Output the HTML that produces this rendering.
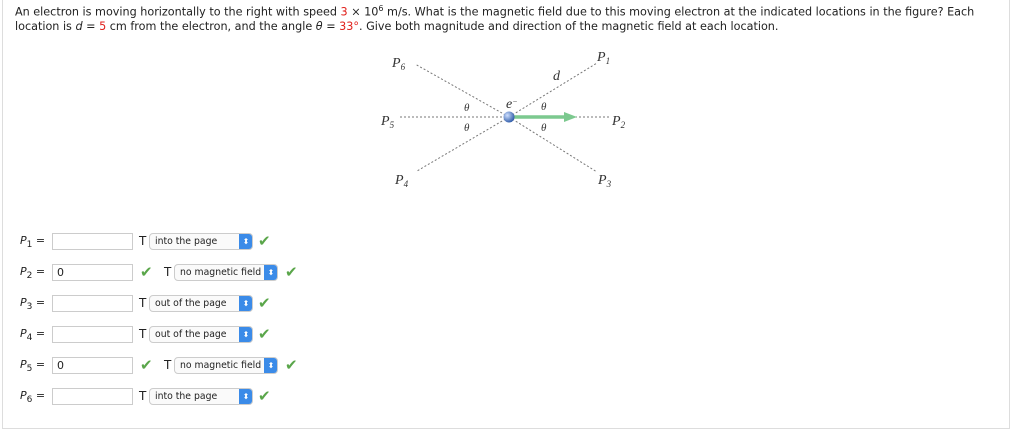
<!DOCTYPE html>
<html><head><meta charset="utf-8"><style>
body{margin:0;width:1024px;height:442px;background:#fff;position:relative;overflow:hidden;font-family:"DejaVu Sans","Liberation Sans",sans-serif;color:#222}
.frame{position:absolute;left:2px;top:-2px;width:1006px;height:430px;border:1px solid #ddd;border-top:none}
.q{position:absolute;left:15px;font-size:11.2px;white-space:nowrap}
.r{color:#e0201b}
.lab{position:absolute;left:20px;font-size:11px;font-style:italic}
.lab sub{font-style:normal;font-size:9px}
.lab span{font-style:normal}
.in{position:absolute;width:81px;height:17px;border:1px solid #ccc;font-size:11px;line-height:16px;padding-left:4px;box-sizing:border-box}
.T{position:absolute;font-size:12px}
.sel{position:absolute;width:104px;height:17px;border:1px solid #ccc;border-radius:4px;font-size:9.3px;line-height:15px;padding-left:5px;box-sizing:border-box;background:#fafafa;white-space:nowrap;overflow:hidden}
.btn{position:absolute;right:-1px;top:-1px;width:14px;height:17px;background:#3b8be8;border-radius:0 4px 4px 0;color:#fff;font-size:8px;text-align:center;line-height:17px}
.ck{position:absolute;color:#5aa64a;font-size:15px;font-weight:bold}
</style></head><body>
<div class="frame"></div>
<div class="q" style="top:4px">An electron is moving horizontally to the right with speed <span class="r">3</span> × 10<sup style="font-size:8px">6</sup> m/s. What is the magnetic field due to this moving electron at the indicated locations in the figure? Each</div>
<div class="q" style="top:20px">location is <i>d</i> = <span class="r">5</span> cm from the electron, and the angle <i>θ</i> = <span class="r">33°</span>. Give both magnitude and direction of the magnetic field at each location.</div>
<svg style="position:absolute;left:0;top:0" width="1024" height="442">
<g stroke="#777" stroke-width="1" stroke-dasharray="2,2" fill="none">
<line x1="509" y1="117" x2="597" y2="63"/><line x1="509" y1="117" x2="415" y2="64"/>
<line x1="509" y1="117" x2="597" y2="172"/><line x1="509" y1="117" x2="417" y2="171"/>
<line x1="400" y1="117" x2="505" y2="117"/><line x1="575" y1="117" x2="610" y2="117"/>
</g>
<line x1="514" y1="117" x2="566" y2="117" stroke="#7cc98f" stroke-width="3.5"/>
<polygon points="564,112 577,117 564,122" fill="#7cc98f"/>
<defs><radialGradient id="g" cx="0.35" cy="0.35" r="0.7"><stop offset="0" stop-color="#cfe0ff"/><stop offset="1" stop-color="#2d5aa8"/></radialGradient></defs>
<circle cx="509" cy="117" r="5.5" fill="url(#g)"/>
<g font-family="Liberation Serif,serif" font-style="italic" font-size="14" fill="#333">
<text x="597" y="61">P<tspan font-size="9" dy="3">1</tspan></text>
<text x="392" y="67">P<tspan font-size="9" dy="3">6</tspan></text>
<text x="381" y="125">P<tspan font-size="9" dy="3">5</tspan></text>
<text x="612" y="125">P<tspan font-size="9" dy="3">2</tspan></text>
<text x="395" y="184">P<tspan font-size="9" dy="3">4</tspan></text>
<text x="598" y="184">P<tspan font-size="9" dy="3">3</tspan></text>
<text x="553" y="80">d</text>
<text x="506" y="108">e<tspan font-size="8" dy="-4">−</tspan></text>
<g font-size="11"><text x="464" y="111">θ</text><text x="464" y="131">θ</text><text x="541" y="110">θ</text><text x="541" y="131">θ</text></g>
</g>
</svg>

<div class="lab" style="top:234px">P<sub>1</sub> <span>=</span></div>
<div class="in" style="left:52px;top:233px"></div>
<div class="T" style="left:139px;top:234px">T</div>
<div class="sel" style="left:149px;top:233px">into the page<div class="btn">⬍</div></div>
<div class="ck" style="left:258px;top:232px">✔</div>

<div class="lab" style="top:265px">P<sub>2</sub> <span>=</span></div>
<div class="in" style="left:52px;top:264px">0</div>
<div class="ck" style="left:140px;top:263px">✔</div>
<div class="T" style="left:164px;top:265px">T</div>
<div class="sel" style="left:174px;top:264px">no magnetic field<div class="btn">⬍</div></div>
<div class="ck" style="left:285px;top:263px">✔</div>

<div class="lab" style="top:296px">P<sub>3</sub> <span>=</span></div>
<div class="in" style="left:52px;top:295px"></div>
<div class="T" style="left:139px;top:296px">T</div>
<div class="sel" style="left:149px;top:295px">out of the page<div class="btn">⬍</div></div>
<div class="ck" style="left:258px;top:294px">✔</div>

<div class="lab" style="top:327px">P<sub>4</sub> <span>=</span></div>
<div class="in" style="left:52px;top:326px"></div>
<div class="T" style="left:139px;top:327px">T</div>
<div class="sel" style="left:149px;top:326px">out of the page<div class="btn">⬍</div></div>
<div class="ck" style="left:258px;top:325px">✔</div>

<div class="lab" style="top:358px">P<sub>5</sub> <span>=</span></div>
<div class="in" style="left:52px;top:357px">0</div>
<div class="ck" style="left:140px;top:356px">✔</div>
<div class="T" style="left:164px;top:358px">T</div>
<div class="sel" style="left:174px;top:357px">no magnetic field<div class="btn">⬍</div></div>
<div class="ck" style="left:285px;top:356px">✔</div>

<div class="lab" style="top:389px">P<sub>6</sub> <span>=</span></div>
<div class="in" style="left:52px;top:388px"></div>
<div class="T" style="left:139px;top:389px">T</div>
<div class="sel" style="left:149px;top:388px">into the page<div class="btn">⬍</div></div>
<div class="ck" style="left:258px;top:387px">✔</div>
</body></html>
